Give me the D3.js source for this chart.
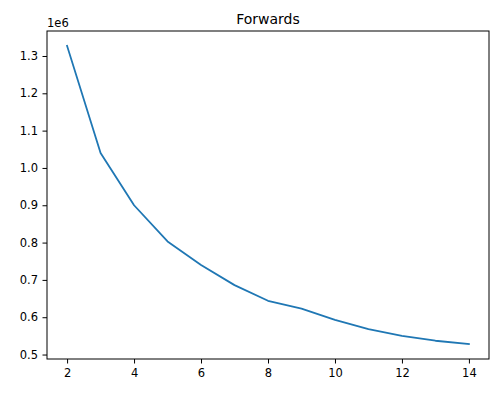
<!DOCTYPE html>
<html>
<head>
<meta charset="utf-8">
<script src="https://cdn.jsdelivr.net/npm/d3@7"></script>
<style>
  html, body { margin: 0; padding: 0; background: #fff; }
  text { font-family: "DejaVu Sans", sans-serif; fill: #000; }
</style>
</head>
<body>
<svg id="chart" width="502" height="406"></svg>
<script>
const title = "Forwards";
const xValues = [2, 3, 4, 5, 6, 7, 8, 9, 10, 11, 12, 13, 14];
const yValues = [1327000, 1040000, 900000, 803000, 740000, 686000, 644000, 623000, 593000, 568000, 550000, 537000, 528000];
const xTicks = [2, 4, 6, 8, 10, 12, 14];
const yTicks = [500000, 600000, 700000, 800000, 900000, 1000000, 1100000, 1200000, 1300000];
const offsetLabel = "1e6";

const W = 502, H = 406;
const m = { left: 47, right: 13, top: 31, bottom: 47 };
const svg = d3.select("#chart");

function padded(ext) {
  const d = (ext[1] - ext[0]) * 0.05;
  return [ext[0] - d, ext[1] + d];
}

const x = d3.scaleLinear().domain(padded(d3.extent(xValues))).range([m.left, W - m.right]);
const y = d3.scaleLinear().domain(padded(d3.extent(yValues))).range([H - m.bottom, m.top]);

const data = xValues.map((v, i) => [v, yValues[i]]);

// line
svg.append("path")
  .datum(data)
  .attr("fill", "none")
  .attr("stroke", "#1f77b4")
  .attr("stroke-width", 1.8)
  .attr("stroke-linejoin", "round")
  .attr("stroke-linecap", "square")
  .attr("d", d3.line().x(d => x(d[0])).y(d => y(d[1])));

// axes
const xAxis = d3.axisBottom(x).tickValues(xTicks).tickSize(4.5).tickPadding(5).tickFormat(d3.format("d"));
const yAxis = d3.axisLeft(y).tickValues(yTicks).tickSize(4.5).tickPadding(4.5).tickFormat(d => (d / 1e6).toFixed(1));

const gx = svg.append("g").attr("transform", `translate(0,${H - m.bottom})`).call(xAxis);
const gy = svg.append("g").attr("transform", `translate(${m.left},0)`).call(yAxis);
[gx, gy].forEach(g => {
  g.select(".domain").remove();
  g.selectAll(".tick line").attr("stroke", "#000").attr("stroke-width", 1);
  g.selectAll(".tick text").style("font-size", "11.5px").attr("fill", "#000");
});

// frame
svg.append("rect")
  .attr("x", m.left).attr("y", m.top)
  .attr("width", W - m.left - m.right).attr("height", H - m.top - m.bottom)
  .attr("fill", "none").attr("stroke", "#000").attr("stroke-width", 1);

// title
svg.append("text")
  .attr("x", (m.left + W - m.right) / 2).attr("y", 24)
  .attr("text-anchor", "middle")
  .style("font-size", "14px")
  .text(title);

// offset label
svg.append("text")
  .attr("x", m.left).attr("y", 27)
  .style("font-size", "11.5px")
  .text(offsetLabel);
</script>
</body>
</html>
